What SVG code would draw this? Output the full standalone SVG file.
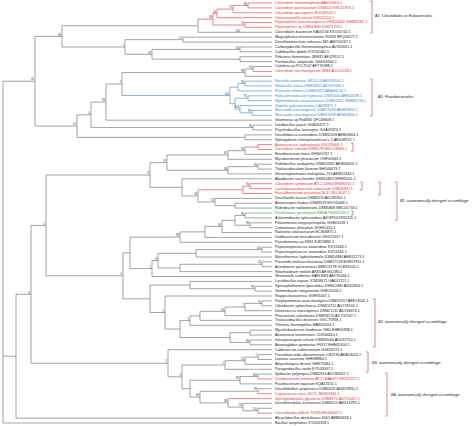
<svg xmlns="http://www.w3.org/2000/svg" width="474" height="426" viewBox="0 0 474 426">
<style>
.t{font-family:"Liberation Sans",Arial,sans-serif;font-size:3.7px;fill:#222;dominant-baseline:middle}
.r{fill:#e8302f}.b{fill:#3b86cf}.g{fill:#2fa33a}
.an{font-family:"Liberation Sans",Arial,sans-serif;font-size:3.9px;fill:#222;dominant-baseline:middle}
.it{font-style:italic}
.bs{font-family:"Liberation Sans",Arial,sans-serif;font-size:2.7px;fill:#333;text-anchor:end}
.ln{stroke:#666;stroke-width:0.6;fill:none}
.lr{stroke:#e8302f;stroke-width:0.6;fill:none}
.lb{stroke:#3b86cf;stroke-width:0.6;fill:none}
.br{stroke:#e8302f;stroke-width:0.6;fill:none}
</style>
<rect width="474" height="426" fill="#fff"/>
<g id="connectors">
<path class="lr" d="M272 3H248V7.9H272M248 5.45H233V12.8H272M233 9.1H217V17.7H272M272 22.5H245V27.4H272M217 13.4H213V25H245M213 19.2H198"/>
<path class="ln" d="M198 19.2V32.3H272"/>
<path class="ln" d="M272 37.2H183V42.1H272M272 47H240V51.8H272M272 56.7H240V61.6H272M240 49.4H152V59.15H240M183 39.65H125V54.3H152M198 25.75H62V47H125"/>
<path class="ln" d="M272 66.5H253V71.4M253 68.95H245V76.3H272"/>
<path class="lr" d="M253 71.4H272"/>
<path class="lb" d="M272 81.1H245V86H272M245 83.55H238V90.9H272M272 95.8H248V100.7H272M272 110.4H252V115.3H272M272 105.6H240V112.85H252M248 98.25H235V109.2H240M238 87.2H230V103.7H235M122 95.45H230"/>
<path class="ln" d="M245 72.6H122V95.45M122 84H106V120.2H272M272 125.1H253V130H272M106 102.1H91V127.55H253M272 134.9H245V139.8H272M91 114.8H77V137.35H245M62 36.4H35V126.1H77"/>
<path class="lr" d="M272 144.6H258V149.5H272M258 147.05H245"/>
<path class="ln" d="M245 147.05V154.4H272M245 150.7H228V159.3H272M272 164.2H258V169.1H272M258 166.65H228V173.9H272M228 155H167V170.3H228"/>
<path class="lr" d="M272 183.7H250V188.6H272M250 186.15H243V193.5H272M243 189.8H198"/>
<path class="ln" d="M272 203.2H235V208.1H272M272 198.4H215V205.65H235M198 189.8V202H215M272 178.8H182V195.9H198M167 162.65H150V187.35H182"/>
<path class="ln" d="M245 213V217.9H272M272 222.8H250V227.7H272M245 215.45H235V225.25H250M235 220.35H222V232.5H272M222 226.4H205V237.4H272M205 231.9H180V242.3H272"/>
<path style="stroke:#2fa33a;stroke-width:0.6;fill:none" d="M245 213H272"/>
<path class="ln" d="M272 247.2H262V252.1H272M262 249.65H196V257H272M272 261.8H262V266.7H272M262 264.25H180V271.6H272M196 253.3H158V267.9H180M158 260.6H152V276.5H272M180 237.1H130V268.55H152"/>
<path class="ln" d="M272 286.3H255V291.1H272M272 281.4H190V288.7H255M272 300.9H262V305.8H272M262 303.35H245V310.7H272M245 307H225V315.6H272M225 311.3H200V320.4H272M200 315.85H190V325.3H272M272 330.2H250V335.1H272M272 340H250V344.8H272M250 332.65H230V342.4H250M190 320.6H180V337.5H230M272 296H165V329.05H180M190 285.05H150V312.5H165M130 252.8H123V298.8H150"/>
<path class="ln" d="M272 354.6H258V359.5H272M258 357.05H245V364.4H272M245 360.7H225V369.3H272M272 374.1H258V379M258 376.55H240V383.9H272M272 388.8H258V393.7M272 408.3H258V413.2M272 403.4H243V410.75H258M228 398.6V407.1H243M258 391.25H200V402.85H228M240 380.2H190V397.05H200M225 365H182V388.6H190M272 349.7H168V376.8H182"/>
<path class="lr" d="M258 379H272M258 393.7H272M258 413.2H272M228 398.6H272"/>
<path class="ln" d="M150 175H46V275.8H123M46 225.4H31V363.25H168M31 294.3H16V418.1H272M35 81.25H3V423H272M3 356.2H16"/>
</g>
<g id="support">
<text class="bs" x="247" y="4.6">86</text><text class="bs" x="232" y="8.3">70</text><text class="bs" x="216" y="12.6">54</text>
<text class="bs" x="244" y="24.2">74</text><text class="bs" x="212" y="18.4">48</text><text class="bs" x="240" y="31.5">100</text>
<text class="bs" x="61" y="35.6">48</text><text class="bs" x="34" y="80.4">31</text><text class="bs" x="182" y="38.8">17</text>
<text class="bs" x="151" y="53.5">39</text><text class="bs" x="124" y="46.2">1</text><text class="bs" x="239" y="48.6">63</text>
<text class="bs" x="252" y="68.1">16</text><text class="bs" x="244" y="71.8">98</text><text class="bs" x="121" y="83.2">7</text>
<text class="bs" x="229" y="94.6">100</text><text class="bs" x="244" y="82.7">94</text><text class="bs" x="247" y="97.4">92</text>
<text class="bs" x="251" y="112">99</text><text class="bs" x="239" y="108.4">100</text><text class="bs" x="105" y="101.3">94</text>
<text class="bs" x="90" y="114">6</text><text class="bs" x="76" y="125.3">61</text><text class="bs" x="252" y="126.7">94</text>
<text class="bs" x="244" y="149.9">94</text><text class="bs" x="227" y="154.2">81</text><text class="bs" x="257" y="165.8">96</text>
<text class="bs" x="227" y="169.5">96</text><text class="bs" x="166" y="161.8">19</text><text class="bs" x="249" y="185.3">94</text>
<text class="bs" x="197" y="195.1">18</text><text class="bs" x="214" y="201.2">23</text><text class="bs" x="149" y="174.2">8</text>
<text class="bs" x="244" y="214.6">96</text><text class="bs" x="249" y="224.4">98</text><text class="bs" x="221" y="225.6">56</text>
<text class="bs" x="179" y="236.3">88</text><text class="bs" x="261" y="248.8">100</text><text class="bs" x="261" y="263.4">24</text>
<text class="bs" x="157" y="259.8">8</text><text class="bs" x="151" y="267.7">1</text><text class="bs" x="254" y="287.9">99</text>
<text class="bs" x="261" y="302.5">70</text><text class="bs" x="244" y="306.2">7</text><text class="bs" x="224" y="310.5">91</text>
<text class="bs" x="189" y="319.8">1</text><text class="bs" x="164" y="311.7">1</text><text class="bs" x="249" y="341.6">96</text>
<text class="bs" x="122" y="275">6</text><text class="bs" x="45" y="224.6">1</text><text class="bs" x="30" y="293.5">4</text>
<text class="bs" x="257" y="356.2">7</text><text class="bs" x="244" y="359.9">20</text><text class="bs" x="224" y="364.2">1</text>
<text class="bs" x="181" y="376">3</text><text class="bs" x="167" y="362.4">2</text><text class="bs" x="257" y="375.7">100</text>
<text class="bs" x="239" y="379.4">99</text><text class="bs" x="257" y="390.4">99</text><text class="bs" x="199" y="396.2">96</text>
<text class="bs" x="227" y="402">98</text><text class="bs" x="242" y="406.3">93</text><text class="bs" x="257" y="410">100</text>
</g>
<g id="leaves">
<text class="t r" x="275" y="3">Clostridium tetanomorphum AAH14363.1</text>
<text class="t r" x="275" y="7.9">Clostridium pasteurianum DSM525 KRU11976.1</text>
<text class="t r" x="275" y="12.8">Clostridium sporogenes EDU38142.1</text>
<text class="t r" x="275" y="17.7">Christensenella minuta KXK65152.1</text>
<text class="t r" x="275" y="22.5">Peptoniphilus asaccharolyticus DSM20463 SMB85581.1</text>
<text class="t r" x="275" y="27.4">Peptoniphilus sp DNF00840 KXB71118.1</text>
<text class="t" x="275" y="32.3">Clostridiales bacterium KA00134 KXO16742.1</text>
<text class="t" x="275" y="37.2">Megasphaera micronuciformis F0359 EFQ04077.1</text>
<text class="t" x="275" y="42.1">Desulfotomaculum reducens MI1 ABO50267.1</text>
<text class="t" x="275" y="47">Carboxydocella thermautotrophica AVX20615.1</text>
<text class="t" x="275" y="51.8">Caldibacillus debilis KYD32462.1</text>
<text class="t" x="275" y="56.7">Pelosinus fermentans JBW45 AFJ29517.1</text>
<text class="t" x="275" y="61.6">Pontibacillus salipaludis GGD00644.1</text>
<text class="t" x="275" y="66.5">Calothrix sp PCC7507 AFY35388.1</text>
<text class="t r" x="275" y="71.4">Clostridium saccharolyticum WM1 ADL05538.1</text>
<text class="t b" x="275" y="81.1">Niastella koreensis GR20-10 AEV99100.1</text>
<text class="t b" x="275" y="86">Weeksella virosa DSM16922 ADX67446.1</text>
<text class="t b" x="275" y="90.9">Fluviicola taffensis DSM16823 AEA44130.1</text>
<text class="t b" x="275" y="95.8">Haliscomenobacter hydrossis DSM1100 AEE51838.1</text>
<text class="t b" x="275" y="100.7">Hymenobacter roseosalivarius DSM11622 SMB92216.1</text>
<text class="t b" x="275" y="105.6">Zobellia galactanivorans CAZ96971.1</text>
<text class="t b" x="275" y="110.4">Muricauda ruestringensis DSM13258 AEM69805.1</text>
<text class="t b" x="275" y="115.3">Muricauda ruestringensis DSM13258 AEM69806.1</text>
<text class="t" x="275" y="120.2">Geomonas sp Red330 QFC69408.1</text>
<text class="t" x="275" y="125.1">Lentibacillus populi GGB05477.1</text>
<text class="t" x="275" y="130">Psychrobacillus lasiicapitis GGA05374.1</text>
<text class="t" x="275" y="134.9">Desulfobacca acetoxidans DSM11109 AEB09404.1</text>
<text class="t" x="275" y="139.8">Sphingobium chlorophenolicum L-1 AEG48752.1</text>
<text class="t r" x="275" y="144.6">Anaerococcus hydrogenalis KXO29006.1</text>
<text class="t r" x="275" y="149.5">Clostridium celatum DSM1785 EKO28583.1</text>
<text class="t" x="275" y="154.4">Brevibacterium linens KHS05747.1</text>
<text class="t" x="275" y="159.3">Mycobacterium phocaicum OGF00563.1</text>
<text class="t" x="275" y="164.2">Sulfobacillus acidophilus DSM10332 AEW06016.1</text>
<text class="t" x="275" y="169.1">Thalassobaculum litoreum SHD46673.1</text>
<text class="t" x="275" y="173.9">Stenotrophomonas maltophilia JV3 AEM51944.1</text>
<text class="t" x="275" y="178.8">Alkalibacter saccharofer DSM14803 SFM81411.1</text>
<text class="t r" x="275" y="183.7">Clostridium symbiosum ATCC14940 ERI86556.1</text>
<text class="t r" x="275" y="188.6">Lachnoanaerobaculum saburreum KXB56807.1</text>
<text class="t r" x="275" y="193.5">Faecalibacterium prausnitzii SL3 CBL03047.1</text>
<text class="t" x="275" y="198.4">Desulfurella fasarai DSM5070 ADV85910.1</text>
<text class="t" x="275" y="203.2">Anaerostipes hadrus DSM3319 EXY05406.1</text>
<text class="t" x="275" y="208.1">Rubrobacter radiotolerans DSM5868 SMC05734.1</text>
<text class="t g" x="275" y="213">Pusillimonas ginsengisoli SBSA TWS05145.1</text>
<text class="t" x="275" y="217.9">Achromobacter xylosoxidans A8 WP013392425.1</text>
<text class="t" x="275" y="222.8">Polaromonas eurypsychrophila GGE05228.1</text>
<text class="t" x="275" y="227.7">Comamonas phosphati GGH61414.1</text>
<text class="t" x="275" y="232.5">Ralstonia solanacearum BCS06875.1</text>
<text class="t" x="275" y="237.4">Undibacterium macrobrachii GGX11657.1</text>
<text class="t" x="275" y="242.3">Pseudomonas sp SWI1 EJ874892.1</text>
<text class="t" x="275" y="247.2">Peptostreptococcus anaerobius KXI11434.1</text>
<text class="t" x="275" y="252.1">Peptostreptococcus anaerobius KXI11434.1</text>
<text class="t" x="275" y="257">Marinithermus hydrothermalis DSM14884 AEB11273.1</text>
<text class="t" x="275" y="261.8">Prevotella multisaccharivorax DSM17128 EGN57911.1</text>
<text class="t" x="275" y="266.7">Acetobacter pasteurianus NBRC3278 GCE91442.1</text>
<text class="t" x="275" y="271.6">Sinorhizobium meliloti AK83 AEG05380.1</text>
<text class="t" x="275" y="276.5">Shewanella sediminis HAW-EB3 ABV35066.1</text>
<text class="t" x="275" y="281.4">Lactobacillus oryzae JCM18671 GAK47121.1</text>
<text class="t" x="275" y="286.3">Syntrophothermus lipocalidus DSM12680 ADI02854.1</text>
<text class="t" x="275" y="291.1">Gemmobacter megaterium GGE10104.1</text>
<text class="t" x="275" y="296">Stappia bavariensis GGE91047.1</text>
<text class="t" x="275" y="300.9">Porphyromonas asaccharolytica DSM20707 AEE13042.1</text>
<text class="t" x="275" y="305.8">Odoribacter splanchnicus DSM20712 ADY33165.1</text>
<text class="t" x="275" y="310.7">Deinococcus maricopensis DSM21211 ADV66676.1</text>
<text class="t" x="275" y="315.6">Phocaeicola salanitronis DSM18170 ADY37147.1</text>
<text class="t" x="275" y="320.4">Thalassobacillus devorans GGC75938.1</text>
<text class="t" x="275" y="325.3">Thermus thermophilus BAW02056.1</text>
<text class="t" x="275" y="330.2">Mycolicibacterium rhodesiae JS60 EHB56838.1</text>
<text class="t" x="275" y="335.1">Alcanivorax xenomutans CUR44400.1</text>
<text class="t" x="275" y="340">Intrasporangium calvum DSM43043 ADU47752.1</text>
<text class="t" x="275" y="344.8">Anaeroglobus geminatus F0357 EHM41400.1</text>
<text class="t" x="275" y="349.7">Caldisericum subterraneum GGK09271.1</text>
<text class="t" x="275" y="354.6">Pseudonocardia dioxanivorans CB1190 AEA24016.1</text>
<text class="t" x="275" y="359.5">Lentzea cavernae GHH38864.1</text>
<text class="t" x="275" y="364.4">Amycolatopsis deserti GHE75484.1</text>
<text class="t" x="275" y="369.3">Parageobacillus toebii KYD33047.1</text>
<text class="t" x="275" y="374.1">Ilyobacter polytropus DSM2926 ADO82067.1</text>
<text class="t r" x="275" y="379">Cetobacterium somerae ATCCBAA474 ERT67677.1</text>
<text class="t" x="275" y="383.9">Fusobacterium equinum KQA13155.1</text>
<text class="t" x="275" y="388.8">Desulfobulbus propionicus DSM2032 ADW18911.1</text>
<text class="t r" x="275" y="393.7">Coprococcus catus GD7C BKS63844.1</text>
<text class="t r" x="275" y="398.6">Syntrophobotulus glycolicus DSM8271 ADY55457.1</text>
<text class="t" x="275" y="403.4">Desulfofundulus kuznetsovii DSM6115 AEG14785.1</text>
<text class="t r" x="275" y="413.2">Clostridioides difficile T0180 EHJ40307.1</text>
<text class="t" x="275" y="418.1">Alicyclobacillus denitrificans K601 AEB80658.1</text>
<text class="t" x="275" y="423">Bacillus atrophaeus KYD03359.1</text>
</g>
<g id="groups">
<path class="br" d="M370 1H372V33H370"/>
<text class="an" x="375" y="16">A1: Clostridiales or Eubacteriales</text>
<path class="br" d="M370 79H372V116H370"/>
<text class="an" x="378" y="97">A2: Flavobacteriales</text>
<path class="br" d="M351 143H353V151H351"/>
<path class="br" d="M360 182H362V190H360"/>
<path class="br" d="M378 182H380V195H378"/>
<path class="br" d="M395 182H397V220H395"/>
<path class="br" d="M351 211H353V215H351"/>
<text class="an it" x="400" y="201">B1: taxonomically diverged assemblage</text>
<path class="br" d="M373 299H375V347H373"/>
<text class="an it" x="378" y="322">B2: taxonomically diverged assemblage</text>
<path class="br" d="M366 352H368V372H366"/>
<text class="an it" x="372" y="363">B3: taxonomically diverged assemblage</text>
<path class="br" d="M385 373H387V416H385"/>
<text class="an it" x="391" y="395">B4: taxonomically diverged assemblage</text>
</g>
</svg>
